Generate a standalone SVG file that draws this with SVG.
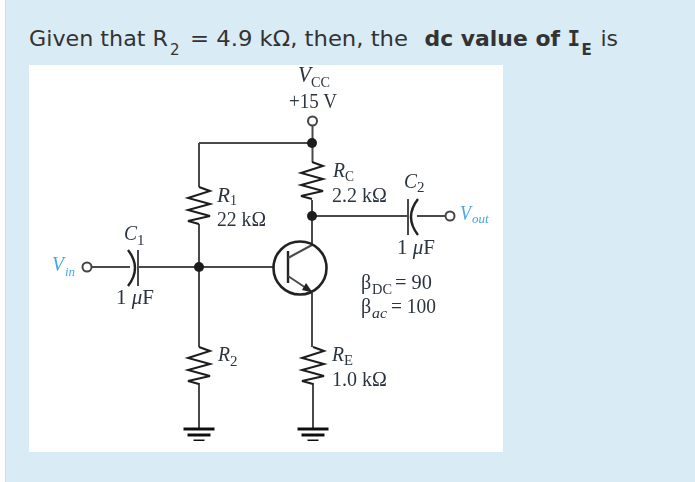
<svg xmlns="http://www.w3.org/2000/svg" width="695" height="482" viewBox="0 0 695 482">
<defs>
<style>
.w{fill:none;stroke:#4a4a4a;stroke-width:2}
.r{fill:none;stroke:#1e1e1e;stroke-width:2;stroke-linejoin:miter}
.k{fill:none;stroke:#222;stroke-width:2.4}
.t{font-family:"Liberation Serif",serif;font-size:20px;fill:#2c3440}
.i{font-style:italic}
.s{font-size:15px}
.b{fill:#41a9ee;font-family:"Liberation Serif",serif;font-style:italic}
.h{font-family:"DejaVu Sans",sans-serif;font-size:22px;fill:#333}
.o{fill:#fff;stroke:#444;stroke-width:2}
.j{fill:#1c1c1c}
.g{stroke:#111;stroke-width:3}
</style>
<filter id="soft" x="0" y="0" width="100%" height="100%"><feGaussianBlur stdDeviation="0.35"/></filter>
<path id="res" d="M0 0 L11 4 L-11 11 L11 17 L-11 23 L11 29 L-11 34 L0 37" class="r"/>
<g id="gnd"><path class="g" d="M-15.500 0H15.500M-11.500 6H11.500M-5.500 12H5.500"/></g>
</defs>
<rect x="0" y="0" width="695" height="482" fill="#fff"/>
<rect x="5.500" y="-1" width="691" height="484" fill="#d9ebf5" stroke="#c4e4ec"/>
<g id="question">
<text class="h" x="29" y="46" textLength="139" lengthAdjust="spacingAndGlyphs">Given that R</text>
<text class="h" x="170" y="55" style="font-size:15px">2</text>
<text class="h" x="190" y="46" textLength="218" lengthAdjust="spacingAndGlyphs">= 4.9 kΩ, then, the</text>
<text class="h" x="424.500" y="46" font-weight="bold" textLength="135.500" lengthAdjust="spacingAndGlyphs">dc value of</text>
<text class="h" x="567.500" y="46" font-weight="bold" style="font-family:'DejaVu Sans Mono',monospace;font-size:21px">I</text>
<text class="h" x="581.500" y="55" font-weight="bold" style="font-size:15px">E</text>
<text class="h" x="600.500" y="46">is</text>
</g>
<rect x="29" y="65" width="474" height="387" fill="#fff"/>
<g filter="url(#soft)">
<g id="connectors">
<path class="w" d="M312.500 125V162M199 143H312M199 143V187M199 224V347M199 383V429M91 267H130M138 267H273M312 200V244M312 216H408M417 216H446M312 293V347M313 383V429"/>
<path class="k" d="M288 251V283"/>
<path class="w" stroke-width="1.500" d="M288 258L312 245M288 276L312 292"/>
<path d="M312.500 292.500L302 290L306 283Z" fill="#222"/>
</g>
<g id="vcc"><circle class="o" cx="312.500" cy="121" r="4.500"/><circle class="j" cx="312" cy="143" r="5"/>
<text class="t i" x="298" y="82" style="font-size:23px" textLength="13" lengthAdjust="spacingAndGlyphs">V</text><text class="t" x="311" y="87" style="font-size:14px" textLength="19" lengthAdjust="spacingAndGlyphs">CC</text>
<text class="t" x="289" y="108" textLength="48" lengthAdjust="spacingAndGlyphs">+15 V</text></g>
<g id="r1"><use href="#res" x="199" y="187"/><text class="t i" x="217" y="202" style="font-size:21px" textLength="13" lengthAdjust="spacingAndGlyphs">R</text><text class="t" x="230" y="205" style="font-size:14px">1</text><text class="t" x="217" y="226" textLength="49" lengthAdjust="spacingAndGlyphs">22 kΩ</text></g>
<g id="rc"><use href="#res" x="312" y="162"/><text class="t i" x="333" y="177" style="font-size:21px" textLength="12" lengthAdjust="spacingAndGlyphs">R</text><text class="t" x="345" y="181" style="font-size:14px" textLength="9" lengthAdjust="spacingAndGlyphs">C</text><text class="t" x="332" y="202" textLength="55" lengthAdjust="spacingAndGlyphs">2.2 kΩ</text></g>
<g id="r2"><use href="#res" x="199" y="347"/><text class="t i" x="218" y="361" style="font-size:21px" textLength="12" lengthAdjust="spacingAndGlyphs">R</text><text class="t s" x="230" y="366">2</text></g>
<g id="re"><use href="#res" x="313" y="347"/><text class="t i" x="332" y="361" style="font-size:21px" textLength="12" lengthAdjust="spacingAndGlyphs">R</text><text class="t" x="344" y="365" style="font-size:14px" textLength="9" lengthAdjust="spacingAndGlyphs">E</text><text class="t" x="332" y="386" textLength="55" lengthAdjust="spacingAndGlyphs">1.0 kΩ</text></g>
<g id="c1"><path class="k" d="M128 250Q142 268 128 286"/><path class="w" stroke-width="2.400" d="M138 250V286"/><text class="t i" x="124" y="240" style="font-size:21px" textLength="13" lengthAdjust="spacingAndGlyphs">C</text><text class="t s" x="137" y="245">1</text><text class="t" x="116" y="304" textLength="38" lengthAdjust="spacingAndGlyphs">1 <tspan class="i">μ</tspan>F</text></g>
<g id="c2"><path class="w" stroke-width="2.400" d="M408 199V235"/><path class="k" d="M418 199Q404 217 418 235"/><text class="t i" x="404" y="188" style="font-size:21px" textLength="13" lengthAdjust="spacingAndGlyphs">C</text><text class="t s" x="417" y="192">2</text><text class="t" x="397" y="254" textLength="38" lengthAdjust="spacingAndGlyphs">1 <tspan class="i">μ</tspan>F</text></g>
<g id="vin"><circle class="o" cx="87" cy="267" r="4.500"/><text class="b" x="52" y="271" font-size="20" textLength="12" lengthAdjust="spacingAndGlyphs">V</text><text class="b" x="65" y="276" font-size="13">in</text></g>
<g id="vout"><circle class="o" cx="450" cy="216" r="4.500"/><text class="b" x="460" y="220" font-size="20" textLength="11" lengthAdjust="spacingAndGlyphs">V</text><text class="b" x="472" y="223" font-size="13">out</text></g>
<g id="junction"><circle class="j" cx="199" cy="267" r="5"/><circle class="j" cx="312" cy="216" r="5"/></g>
<g id="transistor"><circle cx="300" cy="268" r="26.500" fill="none" stroke="#222" stroke-width="2.600"/></g>
<g id="betas"><text class="t" x="361" y="289">β</text><text class="t s" x="372" y="294" textLength="20" lengthAdjust="spacingAndGlyphs">DC</text><text class="t" x="395" y="289" textLength="37" lengthAdjust="spacingAndGlyphs">= 90</text>
<text class="t" x="361" y="313">β</text><text class="t s i" x="372" y="318" textLength="15" lengthAdjust="spacingAndGlyphs">ac</text><text class="t" x="391" y="313" textLength="45" lengthAdjust="spacingAndGlyphs">= 100</text></g>
<g id="grounds"><use href="#gnd" x="199" y="429"/><use href="#gnd" x="313" y="429"/></g>
</g>
</svg>
